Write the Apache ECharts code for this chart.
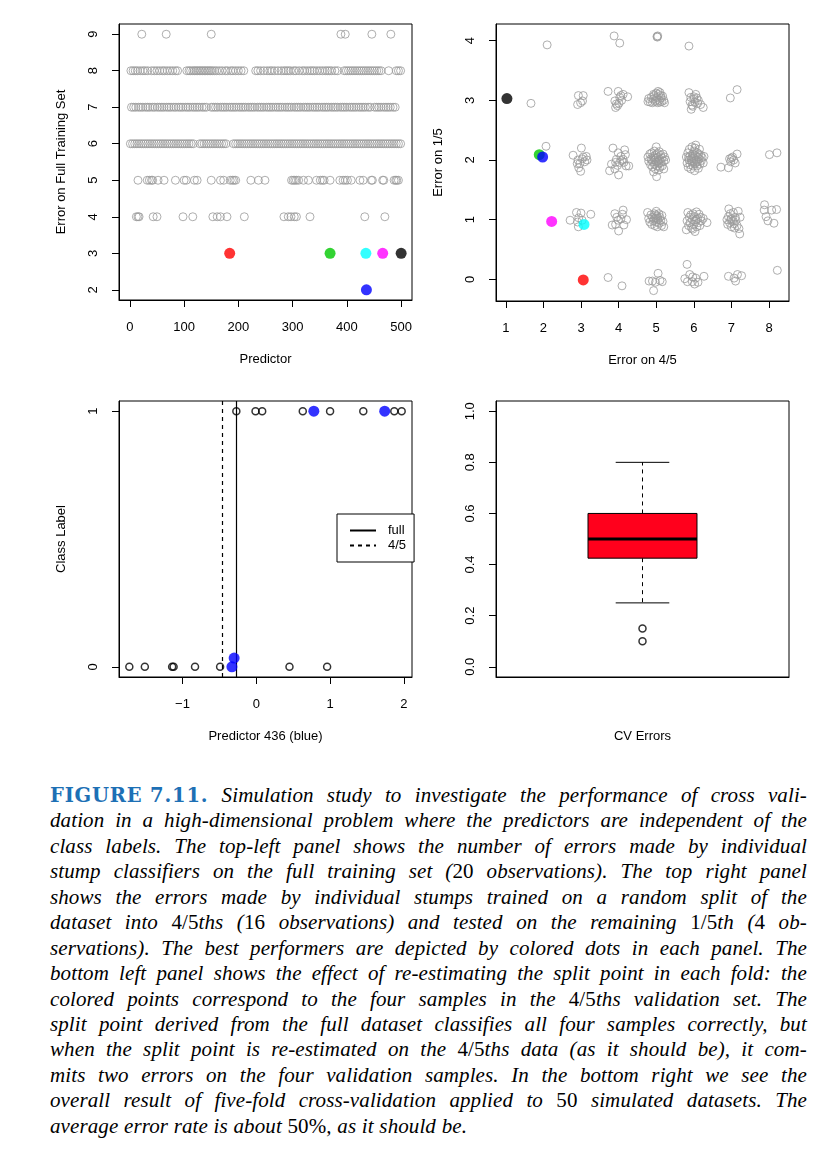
<!DOCTYPE html>
<html><head><meta charset="utf-8">
<script src="https://cdn.jsdelivr.net/npm/echarts@6/dist/echarts.min.js"></script>
<style>
body{margin:0;background:#fff;}
#chart{position:absolute;left:0;top:0;width:833px;height:780px;}
#caption{position:absolute;left:50px;top:783px;width:757px;font-family:'Liberation Serif','Times New Roman',serif;font-style:italic;font-size:21px;letter-spacing:0.1px;color:#000;}
.ln{display:flex;justify-content:space-between;height:25.45px;line-height:25.45px;white-space:nowrap;}
.ln.last{justify-content:flex-start;}
.ln.last > span{margin-right:0.27em;}
.fig{font-family:'DejaVu Serif',serif;font-style:normal;font-weight:bold;color:#1d70b5;font-size:19.5px;letter-spacing:0.8px;}
.n{font-style:normal;}
</style></head>
<body>
<div id="chart"></div>
<div id="caption"></div>
<script>
// ---------- data ----------
// Top-left: predictor index per error level on the full training set
const tlRow9 = [22, 67, 150, 389, 397, 446, 481];
const tlRow8 = [2, 6, 10, 14, 19, 24, 28, 33, 40, 45, 50, 55, 60, 64, 69, 74, 79, 84, 88, 105, 109, 112, 116, 119, 122, 125, 128, 131, 134, 137, 140, 143, 146, 149, 152, 156, 160, 165, 170, 176, 180, 186, 190, 195, 200, 205, 210, 232, 236, 241, 247, 253, 258, 262, 267, 273, 279, 284, 288, 292, 296, 302, 306, 312, 318, 322, 327, 332, 336, 340, 345, 350, 355, 360, 364, 368, 372, 378, 383, 395, 399, 403, 407, 411, 415, 419, 423, 427, 431, 435, 439, 443, 447, 451, 455, 459, 463, 477, 491, 495, 499];
const tlRow7 = [3, 7, 11, 16, 20, 24, 29, 33, 37, 42, 46, 51, 55, 59, 63, 68, 72, 76, 81, 85, 90, 94, 98, 103, 107, 111, 116, 120, 124, 128, 133, 137, 141, 150, 154, 158, 162, 167, 171, 175, 179, 184, 188, 192, 196, 201, 205, 209, 213, 218, 222, 226, 230, 235, 239, 243, 247, 252, 256, 260, 264, 269, 273, 277, 281, 286, 290, 294, 298, 303, 307, 311, 315, 320, 324, 328, 332, 337, 341, 345, 349, 354, 358, 362, 366, 371, 375, 379, 383, 388, 392, 396, 400, 405, 409, 413, 417, 422, 426, 430, 434, 439, 443, 451, 455, 459, 463, 468, 472, 476, 480, 485, 489];
const tlRow6 = [1, 5, 9, 13, 17, 21, 25, 29, 33, 37, 41, 45, 49, 53, 57, 61, 65, 69, 73, 77, 81, 85, 89, 93, 97, 101, 105, 109, 113, 117, 129, 133, 137, 141, 145, 149, 153, 157, 161, 165, 169, 173, 177, 191, 195, 199, 203, 207, 211, 215, 219, 223, 227, 231, 235, 239, 243, 247, 251, 255, 259, 263, 267, 271, 275, 279, 283, 287, 291, 295, 299, 303, 307, 311, 315, 319, 323, 327, 331, 335, 339, 343, 347, 351, 355, 359, 363, 367, 371, 375, 379, 383, 387, 391, 395, 399, 403, 407, 411, 415, 419, 423, 427, 431, 435, 439, 443, 447, 451, 455, 459, 463, 467, 471, 475, 479, 483, 487, 491, 495, 499];
const tlRow5 = [15, 32, 36, 40, 42, 52, 63, 84, 100, 104, 119, 124, 150, 167, 173, 185, 189, 192, 195, 223, 237, 249, 298, 301, 304, 307, 311, 320, 329, 344, 351, 355, 358, 369, 387, 393, 397, 401, 408, 424, 430, 445, 447, 466, 468, 487, 490, 492, 495];
const tlRow4 = [12, 15, 17, 43, 50, 98, 116, 153, 161, 167, 179, 211, 284, 292, 297, 303, 307, 332, 433, 470];
const tlBestX = [184, 369, 435, 466, 500, 436];
const tlBestY = [3, 3, 3, 3, 3, 2];
const bestColors = ['#ff0000', '#00c800', '#00ffff', '#ff00ff', '#000000', '#0000ff'];
const tlTicksX = [0, 100, 200, 300, 400, 500];
const tlTicksY = [2, 3, 4, 5, 6, 7, 8, 9];

// Top-right: (error on 4/5, error on 1/5), jittered, grouped by 1/5 error level
const trLevel4 = [[2.10,3.93],[3.88,4.08],[4.03,3.96],[5.02,4.07],[5.04,4.08],[5.03,4.06],[5.87,3.91]];
const trLevel3 = [[1.67,2.95],
 [2.93,3.08],[3.06,3.08],[2.91,2.93],[2.99,2.96],[3.04,2.99],
 [3.72,3.15],[3.99,3.15],[4.06,3.08],[4.24,3.06],[3.90,2.99],[4.01,2.95],[3.92,2.88],[3.97,2.91],[4.08,3.00],[4.12,3.10],[4.03,3.05],[3.94,2.94],
 [4.78,2.98],[4.80,3.03],[4.84,2.97],[4.87,3.05],[4.90,2.96],[4.92,3.02],[4.95,3.08],[4.97,2.98],[5.00,3.12],[5.00,3.00],[5.02,3.05],[5.04,2.96],[5.06,3.10],[5.08,3.00],[5.10,3.13],[5.10,2.97],[5.13,3.04],[5.15,2.98],[5.17,3.07],[5.20,3.00],[5.22,2.96],[4.93,3.10],[5.05,3.15],[5.12,3.08],
 [5.87,3.13],[6.05,3.10],[5.90,2.98],[5.95,2.92],[5.93,2.85],[6.00,3.02],[6.10,2.95],[6.18,2.93],[6.25,2.88],[6.00,3.06],[6.12,3.00],[5.97,2.90],[5.92,3.05],[6.03,2.97],[6.08,3.04],
 [6.97,3.04],[7.15,3.18]];
const trLevel2 = [[2.07,2.23],
 [2.79,2.08],[3.01,2.20],[2.92,2.00],[3.03,2.02],[3.14,2.06],[3.10,1.97],[2.97,1.94],[2.90,1.94],[2.94,1.87],[2.99,1.81],[3.16,2.00],[3.06,2.05],
 [3.85,2.20],[4.16,2.17],[3.76,1.82],[3.90,1.85],[4.00,1.75],[4.20,1.90],[3.81,1.93],[3.94,2.01],[4.06,2.06],[4.12,2.01],[4.18,2.09],[4.03,1.96],[3.97,1.91],[4.08,1.99],[3.92,1.96],[4.14,1.96],[4.27,1.90],[3.99,2.12],
 [4.78,2.05],[4.80,1.98],[4.83,2.10],[4.85,1.92],[4.86,2.02],[4.88,2.12],[4.90,1.88],[4.90,1.97],[4.92,2.06],[4.93,1.80],[4.95,2.15],[4.95,1.93],[4.96,2.00],[4.98,2.08],[4.98,1.85],[5.00,2.22],[5.00,1.96],[5.00,2.03],[5.01,1.72],[5.02,1.90],[5.03,2.11],[5.04,1.99],[5.05,2.05],[5.06,1.83],[5.07,1.94],[5.08,2.14],[5.10,2.01],[5.10,1.88],[5.12,2.08],[5.13,1.96],[5.15,2.03],[5.16,1.90],[5.18,2.10],[5.20,1.85],[5.20,1.98],[5.22,2.05],[5.25,2.00],[4.88,2.00],[4.94,2.04],[5.06,1.98],
 [5.80,2.05],[5.82,1.95],[5.84,2.12],[5.85,1.88],[5.87,2.00],[5.88,2.18],[5.90,1.92],[5.90,2.07],[5.92,1.85],[5.93,2.02],[5.95,2.22],[5.95,1.96],[5.97,2.10],[5.98,1.90],[6.00,2.04],[6.00,1.98],[6.01,2.15],[6.02,1.82],[6.03,1.94],[6.04,2.07],[6.05,2.25],[6.06,2.00],[6.08,1.90],[6.09,2.12],[6.10,1.97],[6.11,2.05],[6.12,1.86],[6.14,2.02],[6.15,2.18],[6.16,1.93],[6.18,2.08],[6.20,1.99],[6.22,2.04],[6.25,1.95],[6.27,2.06],[5.86,2.04],[5.96,2.06],[6.07,1.96],[5.94,1.99],[6.13,2.10],[6.03,2.20],
 [6.72,1.88],[6.92,1.87],[6.95,2.02],[6.98,1.97],[7.03,2.05],[7.06,2.00],[7.10,1.95],[7.15,2.10],[7.00,2.03],
 [8.01,2.09],[8.21,2.12]];
const trLevel1 = [
 [2.71,0.99],[2.88,1.12],[3.00,1.11],[3.26,1.09],[2.93,0.88],[2.94,1.03],[3.03,0.99],[2.91,0.96],
 [3.90,1.10],[4.12,1.16],[4.10,1.09],[3.83,0.91],[4.00,0.81],[4.21,1.00],[3.92,0.92],[4.06,1.01],[3.99,0.99],[4.14,0.91],[3.95,1.04],
 [4.77,1.12],[4.80,1.02],[4.83,0.96],[4.86,1.08],[4.88,0.92],[4.90,1.04],[4.92,0.98],[4.95,1.10],[4.96,0.90],[4.98,1.03],[5.00,1.14],[5.00,0.96],[5.02,1.06],[5.03,0.88],[5.05,1.00],[5.07,1.10],[5.08,0.94],[5.10,1.04],[5.12,0.99],[5.14,0.90],[5.15,1.07],[5.18,0.97],[5.20,0.88],[4.94,1.01],[5.04,1.03],[4.99,1.08],
 [5.80,0.83],[5.82,0.98],[5.84,1.12],[5.86,0.90],[5.88,1.04],[5.90,0.95],[5.92,1.08],[5.94,0.86],[5.96,1.00],[5.98,1.10],[6.00,0.92],[6.02,1.05],[6.03,0.80],[6.05,0.97],[6.07,1.13],[6.08,0.88],[6.10,1.02],[6.12,0.95],[6.14,1.09],[6.16,0.90],[6.18,1.04],[6.20,0.98],[6.25,1.02],[6.35,0.95],[5.97,0.84],[6.06,1.00],
 [6.88,1.00],[6.90,0.92],[6.92,1.05],[6.93,1.18],[6.95,0.95],[6.97,1.10],[7.00,0.88],[7.00,1.02],[7.03,0.97],[7.05,1.12],[7.07,0.93],[7.10,1.04],[7.12,0.99],[7.15,0.90],[7.18,1.14],[7.20,0.85],[7.22,0.76],[7.23,1.04],[6.98,1.00],[7.08,0.86],
 [7.88,1.25],[7.87,1.16],[7.92,1.05],[7.97,0.98],[8.07,1.16],[8.20,1.17],[8.13,0.94]];
const trLevel0 = [[3.72,0.03],[4.09,-0.11],
 [4.81,-0.03],[4.93,-0.19],[5.05,0.10],[4.90,-0.03],[5.16,-0.04],[4.98,-0.05],[5.10,-0.02],
 [5.82,0.25],[5.76,0.01],[5.89,0.08],[5.96,-0.04],[6.02,-0.08],[6.11,-0.05],[6.27,0.05],[5.83,-0.04],[5.97,0.04],[6.05,0.02],
 [6.92,0.05],[7.11,-0.03],[7.07,0.02],[7.16,0.08],[7.27,0.06],[8.22,0.15]];
const trBestX = [3.06, 1.89, 3.08, 2.22, 1.03, 1.98];
const trBestY = [-0.01, 2.09, 0.92, 0.97, 3.03, 2.05];
const trTicksX = [1, 2, 3, 4, 5, 6, 7, 8];
const trTicksY = [0, 1, 2, 3, 4];

// Bottom-left: predictor 436 values by class label
const blClass1 = [-0.27, -0.01, 0.08, 0.63, 1.00, 1.45, 1.87, 1.97];
const blClass0 = [-1.72, -1.51, -1.14, -1.12, -0.83, -0.49, 0.45, 0.96];
const blValidX = [0.78, 1.74, -0.33, -0.30];
const blValidY = [1, 1, 0, 0.034];
const splitFull = -0.27;
const split45 = -0.46;
const blTicksX = [-1, 0, 1, 2];
const blTicksY = [0, 1];

// Bottom-right: CV errors boxplot [lower whisker, Q1, median, Q3, upper whisker]
const cvStats = [0.25, 0.425, 0.5, 0.6, 0.8];
const cvOutliers = [0.15, 0.10];
const brTicksY = [0, 0.2, 0.4, 0.6, 0.8, 1.0];

// ---------- chart ----------
const FONT = "'Liberation Sans', Arial, Helvetica, sans-serif";
const GRAY = '#9a9a9a';
const fmtNum = v => (v < 0 ? '\u2212' + Math.abs(v) : String(v));
const fmt1 = v => v.toFixed(1);

function mkAxis(o) {
  return {
    type: 'value', gridIndex: o.g, min: o.min, max: o.max,
    name: o.name || '', nameLocation: 'middle', nameGap: o.nameGap || 0,
    nameTextStyle: {fontFamily: FONT, fontSize: 13, color: '#000'},
    axisLine: {show: true, onZero: false, lineStyle: {color: '#000', width: 1}},
    axisTick: {show: !!o.ticks, length: 7, inside: false, lineStyle: {color: '#000', width: 1}, customValues: o.ticks},
    axisLabel: {show: !!o.ticks, customValues: o.ticks, formatter: o.fmt || fmtNum, margin: o.margin || 21,
      rotate: o.rotate || 0, fontFamily: FONT, fontSize: 13, color: '#000', hideOverlap: false},
    splitLine: {show: false}
  };
}
const rowPts = (xs, y) => xs.map(x => [x, y]);
const openCircle = (xi, yi, data, color, size, bw) => ({
  type: 'scatter', xAxisIndex: xi, yAxisIndex: yi, data: data, symbol: 'circle', symbolSize: size,
  itemStyle: {color: 'rgba(0,0,0,0)', borderColor: color, borderWidth: bw}, silent: true, z: 2
});
const filled = (xi, yi, xs, ys, colors, size) => ({
  type: 'scatter', xAxisIndex: xi, yAxisIndex: yi, symbolSize: size, silent: true, z: 5,
  data: xs.map((x, i) => ({value: [x, ys[i]], itemStyle: {color: colors[i]}}))
});

const BOX_HALF = 0.186, CAP_HALF = 0.0915;
const gridBox = {show: true, borderColor: '#000', borderWidth: 1, backgroundColor: 'rgba(0,0,0,0)'};

const option = {
  animation: false,
  backgroundColor: '#fff',
  grid: [
    Object.assign({left: 119, top: 24, width: 293, height: 276}, gridBox),
    Object.assign({left: 496, top: 24, width: 293, height: 277}, gridBox),
    Object.assign({left: 119, top: 401, width: 293, height: 276}, gridBox),
    Object.assign({left: 496, top: 401, width: 293, height: 276}, gridBox)
  ],
  xAxis: [
    mkAxis({g: 0, min: -20, max: 520, ticks: tlTicksX, name: 'Predictor', nameGap: 53}),
    mkAxis({g: 1, min: 0.74, max: 8.53, ticks: trTicksX, name: 'Error on 4/5', nameGap: 53}),
    mkAxis({g: 2, min: -1.86, max: 2.11, ticks: blTicksX, name: 'Predictor 436 (blue)', nameGap: 53}),
    mkAxis({g: 3, min: 0.5, max: 1.5, name: 'CV Errors', nameGap: 53})
  ],
  yAxis: [
    mkAxis({g: 0, min: 1.72, max: 9.28, ticks: tlTicksY, name: 'Error on Full Training Set', nameGap: 51, rotate: 90, margin: 19}),
    mkAxis({g: 1, min: -0.364, max: 4.28, ticks: trTicksY, name: 'Error on 1/5', nameGap: 51, rotate: 90, margin: 19}),
    mkAxis({g: 2, min: -0.04, max: 1.04, ticks: blTicksY, name: 'Class Label', nameGap: 51, rotate: 90, margin: 19}),
    mkAxis({g: 3, min: -0.04, max: 1.04, ticks: brTicksY, fmt: fmt1, rotate: 90, margin: 19})
  ],
  legend: {
    data: ['full', '4/5'], orient: 'vertical', left: 337, top: 514,
    padding: [10, 8, 10, 12], itemWidth: 26, itemHeight: 14, itemGap: 2,
    borderColor: '#000', borderWidth: 1, backgroundColor: '#fff', selectedMode: false,
    itemStyle: {opacity: 0, color: 'rgba(0,0,0,0)', borderWidth: 0},
    textStyle: {fontFamily: FONT, fontSize: 13, color: '#000', padding: [0, 0, 0, 7]}
  },
  series: [
    // top-left
    openCircle(0, 0, rowPts(tlRow9, 9), GRAY, 8, 1),
    openCircle(0, 0, rowPts(tlRow8, 8), GRAY, 8, 1),
    openCircle(0, 0, rowPts(tlRow7, 7), GRAY, 8, 1),
    openCircle(0, 0, rowPts(tlRow6, 6), GRAY, 8, 1),
    openCircle(0, 0, rowPts(tlRow5, 5), GRAY, 8, 1),
    openCircle(0, 0, rowPts(tlRow4, 4), GRAY, 8, 1),
    filled(0, 0, tlBestX, tlBestY, bestColors, 11),
    // top-right
    openCircle(1, 1, trLevel4, GRAY, 8, 1),
    openCircle(1, 1, trLevel3, GRAY, 8, 1),
    openCircle(1, 1, trLevel2, GRAY, 8, 1),
    openCircle(1, 1, trLevel1, GRAY, 8, 1),
    openCircle(1, 1, trLevel0, GRAY, 8, 1),
    filled(1, 1, trBestX, trBestY, bestColors, 11),
    // bottom-left
    {
      name: 'full', type: 'line', xAxisIndex: 2, yAxisIndex: 2, data: [], symbol: 'none', showSymbol: false,
      color: '#000', lineStyle: {color: '#000', width: 1.2, type: 'solid'},
      markLine: {silent: true, symbol: ['none', 'none'], label: {show: false},
        lineStyle: {color: '#000', width: 1.2, type: 'solid'}, data: [{xAxis: splitFull}]}
    },
    {
      name: '4/5', type: 'line', xAxisIndex: 2, yAxisIndex: 2, data: [], symbol: 'none', showSymbol: false,
      color: '#000', lineStyle: {color: '#000', width: 1.2, type: [4, 4]},
      markLine: {silent: true, symbol: ['none', 'none'], label: {show: false},
        lineStyle: {color: '#000', width: 1.2, type: [4, 4]}, data: [{xAxis: split45}]}
    },
    openCircle(2, 2, rowPts(blClass1, 1), '#000', 7, 1.5),
    openCircle(2, 2, rowPts(blClass0, 0), '#000', 7, 1.5),
    filled(2, 2, blValidX, blValidY, blValidX.map(() => '#0000ff'), 11),
    // bottom-right
    {
      type: 'custom', xAxisIndex: 3, yAxisIndex: 3, silent: true,
      data: [[1].concat(cvStats)], encode: {x: 0, y: [1, 2, 3, 4, 5]},
      renderItem: function (params, api) {
        const x = api.value(0);
        const v = [1, 2, 3, 4, 5].map(i => api.value(i));
        const p = v.map(val => api.coord([x, val]));
        const cx = p[2][0];
        const hw = api.size([BOX_HALF, 0])[0];
        const cw = api.size([CAP_HALF, 0])[0];
        const thin = {stroke: '#000', lineWidth: 1};
        const dash = {stroke: '#000', lineWidth: 1, lineDash: [4, 4]};
        return {type: 'group', children: [
          {type: 'line', shape: {x1: cx, y1: p[3][1], x2: cx, y2: p[4][1]}, style: dash},
          {type: 'line', shape: {x1: cx, y1: p[1][1], x2: cx, y2: p[0][1]}, style: dash},
          {type: 'line', shape: {x1: cx - cw, y1: p[4][1], x2: cx + cw, y2: p[4][1]}, style: thin},
          {type: 'line', shape: {x1: cx - cw, y1: p[0][1], x2: cx + cw, y2: p[0][1]}, style: thin},
          {type: 'rect', shape: {x: cx - hw, y: p[3][1], width: 2 * hw, height: p[1][1] - p[3][1]},
            style: {fill: '#ff001c', stroke: '#000', lineWidth: 1}},
          {type: 'line', shape: {x1: cx - hw, y1: p[2][1], x2: cx + hw, y2: p[2][1]}, style: {stroke: '#000', lineWidth: 3}}
        ]};
      }
    },
    openCircle(3, 3, cvOutliers.map(v => [1, v]), '#000', 7, 1.5)
  ]
};

const chart = echarts.init(document.getElementById('chart'), null, {renderer: 'canvas', devicePixelRatio: 1});
chart.setOption(option);

// ---------- caption ----------
const captionLines = [
  'Simulation study to investigate the performance of cross vali-',
  'dation in a high-dimensional problem where the predictors are independent of the',
  'class labels. The top-left panel shows the number of errors made by individual',
  'stump classifiers on the full training set (20 observations). The top right panel',
  'shows the errors made by individual stumps trained on a random split of the',
  'dataset into 4/5ths (16 observations) and tested on the remaining 1/5th (4 ob-',
  'servations). The best performers are depicted by colored dots in each panel. The',
  'bottom left panel shows the effect of re-estimating the split point in each fold: the',
  'colored points correspond to the four samples in the 4/5ths validation set. The',
  'split point derived from the full dataset classifies all four samples correctly, but',
  'when the split point is re-estimated on the 4/5ths data (as it should be), it com-',
  'mits two errors on the four validation samples. In the bottom right we see the',
  'overall result of five-fold cross-validation applied to 50 simulated datasets. The',
  'average error rate is about 50%, as it should be.'
];
const esc = s => s.replace(/&/g, '&amp;').replace(/</g, '&lt;');
const wordHtml = w => esc(w).replace(/[0-9][0-9\/%]*/g, m => '<span class="n">' + m + '</span>');
const cap = document.getElementById('caption');
captionLines.forEach((line, i) => {
  const div = document.createElement('div');
  div.className = 'ln' + (i === captionLines.length - 1 ? ' last' : '');
  let words = line.split(' ').map(w => '<span>' + wordHtml(w) + '</span>');
  if (i === 0) words.unshift('<span class="fig">FIGURE 7.11.</span>');
  div.innerHTML = words.join('');
  cap.appendChild(div);
});
</script>
</body></html>
